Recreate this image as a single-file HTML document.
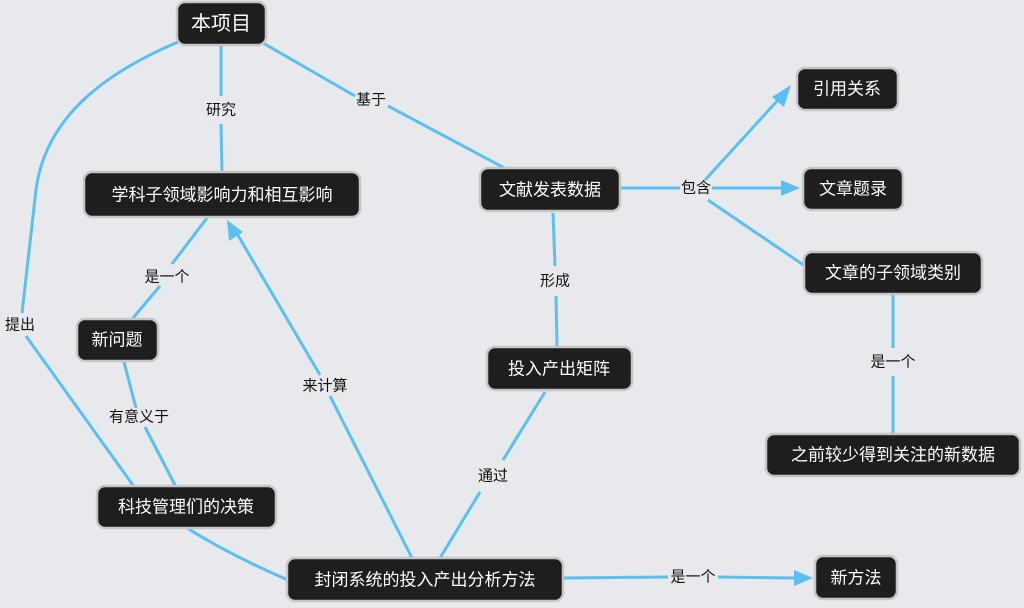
<!DOCTYPE html>
<html><head><meta charset="utf-8"><style>
html,body{margin:0;padding:0;background:#e7e9ec;width:1024px;height:608px;overflow:hidden}
svg{display:block}
.n{fill:#1f1d1d;stroke:#c6c6c6;stroke-width:2.5}
.t{fill:#fff;font-family:"Liberation Sans","Noto Sans CJK SC",sans-serif;font-size:17px;text-anchor:middle;dominant-baseline:central}
.l{fill:#111;font-family:"Liberation Sans","Noto Sans CJK SC",sans-serif;font-size:15px;text-anchor:middle;dominant-baseline:central}
.e{stroke:#5bc0f0;stroke-width:3;fill:none}
.a{fill:#5bc0f0}
</style></head><body>
<svg width="1024" height="608" viewBox="0 0 1024 608">
<g>
<path class="e" d="M263 43 L355 96"/><path class="e" d="M388 106 L512 172"/>
<path class="e" d="M221 45 L221 96"/><path class="e" d="M221 124 L222 172"/>
<path class="e" d="M178 42 C100 75 45 120 36 190 L22 313"/><path class="e" d="M26 336 L135 488"/>
<path class="e" d="M620 188 L680 188"/><path class="e" d="M712 188 L782 188"/>
<path class="e" d="M705 180 L778 100"/><path class="e" d="M708 200 L805 266"/>
<path class="e" d="M553 213 L555 266"/><path class="e" d="M556 296 L557 348"/>
<path class="e" d="M207 218 L172 264"/><path class="e" d="M160 286 L133 318"/>
<path class="e" d="M124 362 L136 408"/><path class="e" d="M145 427 L175 485"/>
<path class="e" d="M893 295 L893 348"/><path class="e" d="M893 376 L893 434"/>
<path class="e" d="M413 560 L330 396"/><path class="e" d="M320 375 L236 232"/>
<path class="e" d="M440 558 L480 492"/><path class="e" d="M503 460 L545 392"/>
<path class="e" d="M563 578 L668 577"/><path class="e" d="M718 577 L795 578"/>
<path class="e" d="M187 528 Q230 555 288 580"/>
<polygon class="a" points="800,188 781,180 781,196"/>
<polygon class="a" points="791,85 772,97 784,107"/>
<polygon class="a" points="227,220 229,241 243,232"/>
<polygon class="a" points="813,578 794,570 794,586"/>
</g>
<rect class="n" x="177" y="2" width="89" height="43" rx="8"/><text class="t" x="221" y="24" style="font-size:20px">本项目</text>
<rect class="n" x="84" y="172" width="276" height="45" rx="8"/><text class="t" x="222" y="195">学科子领域影响力和相互影响</text>
<rect class="n" x="480" y="168" width="140" height="43" rx="8"/><text class="t" x="550" y="190">文献发表数据</text>
<rect class="n" x="797" y="68" width="101" height="42" rx="8"/><text class="t" x="847" y="89">引用关系</text>
<rect class="n" x="803" y="168" width="100" height="42" rx="8"/><text class="t" x="853" y="189">文章题录</text>
<rect class="n" x="804" y="252" width="178" height="42" rx="8"/><text class="t" x="893" y="273">文章的子领域类别</text>
<rect class="n" x="77" y="319" width="81" height="42" rx="8"/><text class="t" x="117" y="340">新问题</text>
<rect class="n" x="487" y="347" width="145" height="43" rx="8"/><text class="t" x="559" y="369">投入产出矩阵</text>
<rect class="n" x="766" y="434" width="254" height="42" rx="8"/><text class="t" x="893" y="455">之前较少得到关注的新数据</text>
<rect class="n" x="97" y="486" width="179" height="42" rx="8"/><text class="t" x="186" y="507">科技管理们的决策</text>
<rect class="n" x="287" y="558" width="276" height="43" rx="8"/><text class="t" x="425" y="580">封闭系统的投入产出分析方法</text>
<rect class="n" x="815" y="556" width="82" height="43" rx="8"/><text class="t" x="856" y="578">新方法</text>
<text class="l" x="371" y="100">基于</text>
<text class="l" x="221" y="110">研究</text>
<text class="l" x="20" y="325">提出</text>
<text class="l" x="696" y="188">包含</text>
<text class="l" x="555" y="281">形成</text>
<text class="l" x="167" y="277">是一个</text>
<text class="l" x="139" y="417">有意义于</text>
<text class="l" x="893" y="362">是一个</text>
<text class="l" x="325" y="386">来计算</text>
<text class="l" x="493" y="476">通过</text>
<text class="l" x="693" y="577">是一个</text>
</svg>
</body></html>
